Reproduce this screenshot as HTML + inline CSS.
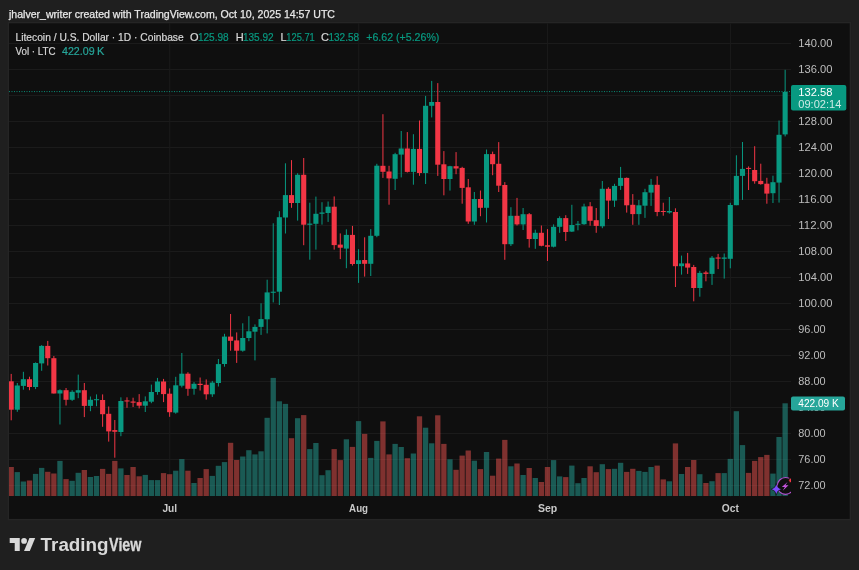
<!DOCTYPE html>
<html><head><meta charset="utf-8"><title>LTCUSD chart</title>
<style>
html,body{margin:0;padding:0;background:#1f1f1f;}
body{width:859px;height:570px;overflow:hidden;font-family:"Liberation Sans",sans-serif;}
svg{display:block;position:absolute;left:0;top:0;will-change:transform;font-family:"Liberation Sans",sans-serif;}
</style></head><body>
<svg width="859" height="570" viewBox="0 0 859 570">
<rect width="859" height="570" fill="#1f1f1f"/>
<text x="9" y="18.4" font-size="11" fill="#e8e8e8" stroke="#e8e8e8" stroke-width="0.25" textLength="326" lengthAdjust="spacingAndGlyphs">jhalver_writer created with TradingView.com, Oct 10, 2025 14:57 UTC</text>
<rect x="7.7" y="21.9" width="843.4" height="498.4" fill="#252525"/>
<rect x="9" y="23.3" width="840.7" height="495.6" fill="#0f0f0f"/>

<defs><clipPath id="pane"><rect x="9" y="23.3" width="782" height="473"/></clipPath></defs>
<g stroke="#1b1b1b" stroke-width="1">
<line x1="9" y1="43.50" x2="791" y2="43.50"/>
<line x1="9" y1="69.50" x2="791" y2="69.50"/>
<line x1="9" y1="95.50" x2="791" y2="95.50"/>
<line x1="9" y1="121.50" x2="791" y2="121.50"/>
<line x1="9" y1="147.50" x2="791" y2="147.50"/>
<line x1="9" y1="173.50" x2="791" y2="173.50"/>
<line x1="9" y1="199.50" x2="791" y2="199.50"/>
<line x1="9" y1="225.50" x2="791" y2="225.50"/>
<line x1="9" y1="251.50" x2="791" y2="251.50"/>
<line x1="9" y1="277.50" x2="791" y2="277.50"/>
<line x1="9" y1="303.50" x2="791" y2="303.50"/>
<line x1="9" y1="329.50" x2="791" y2="329.50"/>
<line x1="9" y1="355.50" x2="791" y2="355.50"/>
<line x1="9" y1="381.50" x2="791" y2="381.50"/>
<line x1="9" y1="407.50" x2="791" y2="407.50"/>
<line x1="9" y1="433.50" x2="791" y2="433.50"/>
<line x1="9" y1="459.50" x2="791" y2="459.50"/>
<line x1="9" y1="485.50" x2="791" y2="485.50"/>
<line x1="169.70" y1="23.3" x2="169.70" y2="496.5"/>
<line x1="358.70" y1="23.3" x2="358.70" y2="496.5"/>
<line x1="547.60" y1="23.3" x2="547.60" y2="496.5"/>
<line x1="730.40" y1="23.3" x2="730.40" y2="496.5"/>
</g>
<g clip-path="url(#pane)">
<rect x="8.55" y="467.0" width="5.3" height="29.1" fill="#ef5350" fill-opacity="0.5"/>
<rect x="14.64" y="472.1" width="5.3" height="23.9" fill="#26a69a" fill-opacity="0.5"/>
<rect x="20.74" y="481.5" width="5.3" height="14.6" fill="#26a69a" fill-opacity="0.5"/>
<rect x="26.83" y="480.5" width="5.3" height="15.6" fill="#ef5350" fill-opacity="0.5"/>
<rect x="32.93" y="473.9" width="5.3" height="22.2" fill="#26a69a" fill-opacity="0.5"/>
<rect x="39.02" y="467.9" width="5.3" height="28.2" fill="#26a69a" fill-opacity="0.5"/>
<rect x="45.11" y="471.8" width="5.3" height="24.2" fill="#ef5350" fill-opacity="0.5"/>
<rect x="51.21" y="473.5" width="5.3" height="22.6" fill="#ef5350" fill-opacity="0.5"/>
<rect x="57.30" y="460.9" width="5.3" height="35.2" fill="#26a69a" fill-opacity="0.5"/>
<rect x="63.40" y="479.1" width="5.3" height="16.9" fill="#ef5350" fill-opacity="0.5"/>
<rect x="69.49" y="480.8" width="5.3" height="15.2" fill="#26a69a" fill-opacity="0.5"/>
<rect x="75.58" y="472.8" width="5.3" height="23.2" fill="#26a69a" fill-opacity="0.5"/>
<rect x="81.68" y="470.0" width="5.3" height="26.1" fill="#ef5350" fill-opacity="0.5"/>
<rect x="87.77" y="477.0" width="5.3" height="19.1" fill="#26a69a" fill-opacity="0.5"/>
<rect x="93.87" y="476.0" width="5.3" height="20.1" fill="#26a69a" fill-opacity="0.5"/>
<rect x="99.96" y="468.9" width="5.3" height="27.2" fill="#ef5350" fill-opacity="0.5"/>
<rect x="106.05" y="473.9" width="5.3" height="22.2" fill="#ef5350" fill-opacity="0.5"/>
<rect x="112.15" y="460.9" width="5.3" height="35.2" fill="#ef5350" fill-opacity="0.5"/>
<rect x="118.24" y="468.4" width="5.3" height="27.7" fill="#26a69a" fill-opacity="0.5"/>
<rect x="124.34" y="475.0" width="5.3" height="21.1" fill="#ef5350" fill-opacity="0.5"/>
<rect x="130.43" y="467.0" width="5.3" height="29.1" fill="#ef5350" fill-opacity="0.5"/>
<rect x="136.52" y="476.3" width="5.3" height="19.8" fill="#ef5350" fill-opacity="0.5"/>
<rect x="142.62" y="474.9" width="5.3" height="21.2" fill="#26a69a" fill-opacity="0.5"/>
<rect x="148.71" y="480.1" width="5.3" height="15.9" fill="#26a69a" fill-opacity="0.5"/>
<rect x="154.81" y="480.1" width="5.3" height="15.9" fill="#26a69a" fill-opacity="0.5"/>
<rect x="160.90" y="473.1" width="5.3" height="22.9" fill="#ef5350" fill-opacity="0.5"/>
<rect x="166.99" y="474.2" width="5.3" height="21.9" fill="#ef5350" fill-opacity="0.5"/>
<rect x="173.09" y="470.7" width="5.3" height="25.4" fill="#26a69a" fill-opacity="0.5"/>
<rect x="179.18" y="459.1" width="5.3" height="36.9" fill="#26a69a" fill-opacity="0.5"/>
<rect x="185.28" y="470.7" width="5.3" height="25.4" fill="#ef5350" fill-opacity="0.5"/>
<rect x="191.37" y="483.0" width="5.3" height="13.1" fill="#26a69a" fill-opacity="0.5"/>
<rect x="197.46" y="478.0" width="5.3" height="18.1" fill="#ef5350" fill-opacity="0.5"/>
<rect x="203.56" y="469.1" width="5.3" height="26.9" fill="#ef5350" fill-opacity="0.5"/>
<rect x="209.65" y="475.9" width="5.3" height="20.2" fill="#26a69a" fill-opacity="0.5"/>
<rect x="215.75" y="465.8" width="5.3" height="30.2" fill="#26a69a" fill-opacity="0.5"/>
<rect x="221.84" y="462.1" width="5.3" height="33.9" fill="#26a69a" fill-opacity="0.5"/>
<rect x="227.93" y="442.8" width="5.3" height="53.2" fill="#ef5350" fill-opacity="0.5"/>
<rect x="234.03" y="460.0" width="5.3" height="36.1" fill="#ef5350" fill-opacity="0.5"/>
<rect x="240.12" y="456.5" width="5.3" height="39.6" fill="#26a69a" fill-opacity="0.5"/>
<rect x="246.22" y="450.2" width="5.3" height="45.9" fill="#26a69a" fill-opacity="0.5"/>
<rect x="252.31" y="454.4" width="5.3" height="41.7" fill="#26a69a" fill-opacity="0.5"/>
<rect x="258.40" y="451.3" width="5.3" height="44.8" fill="#26a69a" fill-opacity="0.5"/>
<rect x="264.50" y="417.8" width="5.3" height="78.2" fill="#26a69a" fill-opacity="0.5"/>
<rect x="270.59" y="377.9" width="5.3" height="118.2" fill="#26a69a" fill-opacity="0.5"/>
<rect x="276.69" y="401.3" width="5.3" height="94.8" fill="#26a69a" fill-opacity="0.5"/>
<rect x="282.78" y="403.9" width="5.3" height="92.2" fill="#26a69a" fill-opacity="0.5"/>
<rect x="288.87" y="438.2" width="5.3" height="57.9" fill="#ef5350" fill-opacity="0.5"/>
<rect x="294.97" y="418.2" width="5.3" height="77.9" fill="#26a69a" fill-opacity="0.5"/>
<rect x="301.06" y="415.1" width="5.3" height="80.9" fill="#ef5350" fill-opacity="0.5"/>
<rect x="307.16" y="449.1" width="5.3" height="46.9" fill="#26a69a" fill-opacity="0.5"/>
<rect x="313.25" y="443.0" width="5.3" height="53.1" fill="#26a69a" fill-opacity="0.5"/>
<rect x="319.34" y="475.2" width="5.3" height="20.9" fill="#26a69a" fill-opacity="0.5"/>
<rect x="325.44" y="470.2" width="5.3" height="25.9" fill="#26a69a" fill-opacity="0.5"/>
<rect x="331.53" y="449.1" width="5.3" height="46.9" fill="#ef5350" fill-opacity="0.5"/>
<rect x="337.63" y="460.1" width="5.3" height="35.9" fill="#ef5350" fill-opacity="0.5"/>
<rect x="343.72" y="439.3" width="5.3" height="56.8" fill="#26a69a" fill-opacity="0.5"/>
<rect x="349.81" y="446.9" width="5.3" height="49.2" fill="#ef5350" fill-opacity="0.5"/>
<rect x="355.91" y="421.1" width="5.3" height="74.9" fill="#26a69a" fill-opacity="0.5"/>
<rect x="362.00" y="433.9" width="5.3" height="62.2" fill="#ef5350" fill-opacity="0.5"/>
<rect x="368.10" y="457.9" width="5.3" height="38.2" fill="#26a69a" fill-opacity="0.5"/>
<rect x="374.19" y="440.9" width="5.3" height="55.2" fill="#26a69a" fill-opacity="0.5"/>
<rect x="380.28" y="421.4" width="5.3" height="74.7" fill="#ef5350" fill-opacity="0.5"/>
<rect x="386.38" y="454.4" width="5.3" height="41.7" fill="#ef5350" fill-opacity="0.5"/>
<rect x="392.47" y="443.9" width="5.3" height="52.2" fill="#26a69a" fill-opacity="0.5"/>
<rect x="398.57" y="447.0" width="5.3" height="49.1" fill="#26a69a" fill-opacity="0.5"/>
<rect x="404.66" y="458.2" width="5.3" height="37.9" fill="#ef5350" fill-opacity="0.5"/>
<rect x="410.75" y="453.5" width="5.3" height="42.6" fill="#26a69a" fill-opacity="0.5"/>
<rect x="416.85" y="416.3" width="5.3" height="79.8" fill="#ef5350" fill-opacity="0.5"/>
<rect x="422.94" y="427.7" width="5.3" height="68.4" fill="#26a69a" fill-opacity="0.5"/>
<rect x="429.04" y="443.3" width="5.3" height="52.8" fill="#26a69a" fill-opacity="0.5"/>
<rect x="435.13" y="415.3" width="5.3" height="80.8" fill="#ef5350" fill-opacity="0.5"/>
<rect x="441.22" y="443.9" width="5.3" height="52.2" fill="#ef5350" fill-opacity="0.5"/>
<rect x="447.32" y="459.3" width="5.3" height="36.8" fill="#26a69a" fill-opacity="0.5"/>
<rect x="453.41" y="469.8" width="5.3" height="26.2" fill="#ef5350" fill-opacity="0.5"/>
<rect x="459.51" y="455.6" width="5.3" height="40.4" fill="#ef5350" fill-opacity="0.5"/>
<rect x="465.60" y="450.5" width="5.3" height="45.6" fill="#ef5350" fill-opacity="0.5"/>
<rect x="471.69" y="460.7" width="5.3" height="35.4" fill="#26a69a" fill-opacity="0.5"/>
<rect x="477.79" y="469.1" width="5.3" height="26.9" fill="#ef5350" fill-opacity="0.5"/>
<rect x="483.88" y="452.0" width="5.3" height="44.1" fill="#26a69a" fill-opacity="0.5"/>
<rect x="489.98" y="475.7" width="5.3" height="20.4" fill="#ef5350" fill-opacity="0.5"/>
<rect x="496.07" y="458.6" width="5.3" height="37.4" fill="#ef5350" fill-opacity="0.5"/>
<rect x="502.16" y="439.9" width="5.3" height="56.2" fill="#ef5350" fill-opacity="0.5"/>
<rect x="508.26" y="466.3" width="5.3" height="29.8" fill="#26a69a" fill-opacity="0.5"/>
<rect x="514.35" y="463.5" width="5.3" height="32.6" fill="#ef5350" fill-opacity="0.5"/>
<rect x="520.45" y="475.0" width="5.3" height="21.1" fill="#26a69a" fill-opacity="0.5"/>
<rect x="526.54" y="468.0" width="5.3" height="28.1" fill="#ef5350" fill-opacity="0.5"/>
<rect x="532.63" y="478.0" width="5.3" height="18.1" fill="#26a69a" fill-opacity="0.5"/>
<rect x="538.73" y="482.0" width="5.3" height="14.1" fill="#ef5350" fill-opacity="0.5"/>
<rect x="544.82" y="467.0" width="5.3" height="29.1" fill="#ef5350" fill-opacity="0.5"/>
<rect x="550.92" y="460.1" width="5.3" height="35.9" fill="#26a69a" fill-opacity="0.5"/>
<rect x="557.01" y="476.4" width="5.3" height="19.7" fill="#26a69a" fill-opacity="0.5"/>
<rect x="563.10" y="477.1" width="5.3" height="18.9" fill="#ef5350" fill-opacity="0.5"/>
<rect x="569.20" y="465.6" width="5.3" height="30.4" fill="#26a69a" fill-opacity="0.5"/>
<rect x="575.29" y="483.2" width="5.3" height="12.9" fill="#26a69a" fill-opacity="0.5"/>
<rect x="581.39" y="478.0" width="5.3" height="18.1" fill="#26a69a" fill-opacity="0.5"/>
<rect x="587.48" y="466.3" width="5.3" height="29.8" fill="#ef5350" fill-opacity="0.5"/>
<rect x="593.57" y="472.2" width="5.3" height="23.9" fill="#ef5350" fill-opacity="0.5"/>
<rect x="599.67" y="464.2" width="5.3" height="31.9" fill="#26a69a" fill-opacity="0.5"/>
<rect x="605.76" y="469.1" width="5.3" height="26.9" fill="#ef5350" fill-opacity="0.5"/>
<rect x="611.86" y="468.8" width="5.3" height="27.2" fill="#26a69a" fill-opacity="0.5"/>
<rect x="617.95" y="462.8" width="5.3" height="33.2" fill="#26a69a" fill-opacity="0.5"/>
<rect x="624.04" y="471.9" width="5.3" height="24.2" fill="#ef5350" fill-opacity="0.5"/>
<rect x="630.14" y="468.8" width="5.3" height="27.2" fill="#ef5350" fill-opacity="0.5"/>
<rect x="636.23" y="470.9" width="5.3" height="25.2" fill="#26a69a" fill-opacity="0.5"/>
<rect x="642.33" y="471.9" width="5.3" height="24.2" fill="#26a69a" fill-opacity="0.5"/>
<rect x="648.42" y="467.0" width="5.3" height="29.1" fill="#26a69a" fill-opacity="0.5"/>
<rect x="654.51" y="465.6" width="5.3" height="30.4" fill="#ef5350" fill-opacity="0.5"/>
<rect x="660.61" y="479.4" width="5.3" height="16.7" fill="#ef5350" fill-opacity="0.5"/>
<rect x="666.70" y="481.3" width="5.3" height="14.8" fill="#26a69a" fill-opacity="0.5"/>
<rect x="672.80" y="443.4" width="5.3" height="52.7" fill="#ef5350" fill-opacity="0.5"/>
<rect x="678.89" y="474.0" width="5.3" height="22.1" fill="#26a69a" fill-opacity="0.5"/>
<rect x="684.98" y="467.0" width="5.3" height="29.1" fill="#ef5350" fill-opacity="0.5"/>
<rect x="691.08" y="460.0" width="5.3" height="36.1" fill="#ef5350" fill-opacity="0.5"/>
<rect x="697.17" y="474.2" width="5.3" height="21.9" fill="#26a69a" fill-opacity="0.5"/>
<rect x="703.27" y="483.0" width="5.3" height="13.1" fill="#ef5350" fill-opacity="0.5"/>
<rect x="709.36" y="481.2" width="5.3" height="14.9" fill="#26a69a" fill-opacity="0.5"/>
<rect x="715.45" y="473.1" width="5.3" height="22.9" fill="#ef5350" fill-opacity="0.5"/>
<rect x="721.55" y="473.1" width="5.3" height="22.9" fill="#26a69a" fill-opacity="0.5"/>
<rect x="727.64" y="458.9" width="5.3" height="37.2" fill="#26a69a" fill-opacity="0.5"/>
<rect x="733.74" y="411.2" width="5.3" height="84.9" fill="#26a69a" fill-opacity="0.5"/>
<rect x="739.83" y="445.1" width="5.3" height="50.9" fill="#26a69a" fill-opacity="0.5"/>
<rect x="745.92" y="472.9" width="5.3" height="23.2" fill="#ef5350" fill-opacity="0.5"/>
<rect x="752.02" y="460.9" width="5.3" height="35.2" fill="#ef5350" fill-opacity="0.5"/>
<rect x="758.11" y="457.1" width="5.3" height="38.9" fill="#ef5350" fill-opacity="0.5"/>
<rect x="764.21" y="454.9" width="5.3" height="41.2" fill="#ef5350" fill-opacity="0.5"/>
<rect x="770.30" y="473.6" width="5.3" height="22.4" fill="#26a69a" fill-opacity="0.5"/>
<rect x="776.39" y="437.0" width="5.3" height="59.1" fill="#26a69a" fill-opacity="0.5"/>
<rect x="782.49" y="403.3" width="5.3" height="92.8" fill="#26a69a" fill-opacity="0.5"/>
<line x1="9" y1="91.6" x2="791" y2="91.6" stroke="#089981" stroke-width="1" stroke-dasharray="1 1.5" opacity="0.9"/>
<rect x="10.70" y="373.9" width="1" height="46.4" fill="#f23645"/>
<rect x="8.65" y="381.3" width="5.1" height="28.4" fill="#f23645"/>
<rect x="16.79" y="383.0" width="1" height="28.8" fill="#089981"/>
<rect x="14.74" y="385.5" width="5.1" height="24.2" fill="#089981"/>
<rect x="22.89" y="371.8" width="1" height="17.9" fill="#089981"/>
<rect x="20.84" y="379.2" width="5.1" height="6.7" fill="#089981"/>
<rect x="28.98" y="376.7" width="1" height="13.5" fill="#f23645"/>
<rect x="26.93" y="379.2" width="5.1" height="7.8" fill="#f23645"/>
<rect x="35.08" y="362.4" width="1" height="26.7" fill="#089981"/>
<rect x="33.03" y="363.0" width="5.1" height="24.0" fill="#089981"/>
<rect x="41.17" y="345.1" width="1" height="25.7" fill="#089981"/>
<rect x="39.12" y="345.9" width="5.1" height="17.5" fill="#089981"/>
<rect x="47.26" y="340.9" width="1" height="24.6" fill="#f23645"/>
<rect x="45.21" y="345.9" width="5.1" height="12.3" fill="#f23645"/>
<rect x="53.36" y="356.0" width="1" height="37.5" fill="#f23645"/>
<rect x="51.31" y="358.2" width="5.1" height="35.3" fill="#f23645"/>
<rect x="59.45" y="389.3" width="1" height="35.2" fill="#089981"/>
<rect x="57.40" y="390.2" width="5.1" height="3.3" fill="#089981"/>
<rect x="65.55" y="388.0" width="1" height="17.5" fill="#f23645"/>
<rect x="63.50" y="390.2" width="5.1" height="9.6" fill="#f23645"/>
<rect x="71.64" y="390.2" width="1" height="10.7" fill="#089981"/>
<rect x="69.59" y="391.8" width="5.1" height="8.0" fill="#089981"/>
<rect x="77.73" y="374.6" width="1" height="23.6" fill="#089981"/>
<rect x="75.68" y="390.2" width="5.1" height="2.5" fill="#089981"/>
<rect x="83.83" y="383.0" width="1" height="34.1" fill="#f23645"/>
<rect x="81.78" y="390.2" width="5.1" height="15.7" fill="#f23645"/>
<rect x="89.92" y="396.5" width="1" height="14.7" fill="#089981"/>
<rect x="87.87" y="399.8" width="5.1" height="6.1" fill="#089981"/>
<rect x="96.02" y="394.4" width="1" height="11.8" fill="#089981"/>
<rect x="93.97" y="399.2" width="5.1" height="1.0" fill="#089981"/>
<rect x="102.11" y="394.4" width="1" height="32.4" fill="#f23645"/>
<rect x="100.06" y="400.0" width="5.1" height="14.2" fill="#f23645"/>
<rect x="108.20" y="406.5" width="1" height="35.1" fill="#f23645"/>
<rect x="106.15" y="413.8" width="5.1" height="17.6" fill="#f23645"/>
<rect x="114.30" y="420.0" width="1" height="37.7" fill="#f23645"/>
<rect x="112.25" y="430.1" width="5.1" height="1.7" fill="#f23645"/>
<rect x="120.39" y="397.3" width="1" height="38.9" fill="#089981"/>
<rect x="118.34" y="401.0" width="5.1" height="31.0" fill="#089981"/>
<rect x="126.49" y="397.3" width="1" height="10.5" fill="#f23645"/>
<rect x="124.44" y="400.4" width="5.1" height="1.1" fill="#f23645"/>
<rect x="132.58" y="397.7" width="1" height="9.3" fill="#f23645"/>
<rect x="130.53" y="401.5" width="5.1" height="1.2" fill="#f23645"/>
<rect x="138.67" y="394.1" width="1" height="14.3" fill="#f23645"/>
<rect x="136.62" y="402.1" width="5.1" height="3.6" fill="#f23645"/>
<rect x="144.77" y="396.4" width="1" height="15.6" fill="#089981"/>
<rect x="142.72" y="401.3" width="5.1" height="4.4" fill="#089981"/>
<rect x="150.86" y="384.6" width="1" height="18.6" fill="#089981"/>
<rect x="148.81" y="392.0" width="5.1" height="9.7" fill="#089981"/>
<rect x="156.96" y="377.9" width="1" height="16.8" fill="#089981"/>
<rect x="154.91" y="381.5" width="5.1" height="10.5" fill="#089981"/>
<rect x="163.05" y="378.9" width="1" height="23.2" fill="#f23645"/>
<rect x="161.00" y="381.5" width="5.1" height="12.6" fill="#f23645"/>
<rect x="169.14" y="388.4" width="1" height="28.4" fill="#f23645"/>
<rect x="167.09" y="393.7" width="5.1" height="18.5" fill="#f23645"/>
<rect x="175.24" y="376.8" width="1" height="36.9" fill="#089981"/>
<rect x="173.19" y="385.3" width="5.1" height="27.3" fill="#089981"/>
<rect x="181.33" y="353.0" width="1" height="34.4" fill="#089981"/>
<rect x="179.28" y="373.7" width="5.1" height="12.0" fill="#089981"/>
<rect x="187.43" y="372.2" width="1" height="23.6" fill="#f23645"/>
<rect x="185.38" y="373.7" width="5.1" height="15.1" fill="#f23645"/>
<rect x="193.52" y="382.1" width="1" height="12.6" fill="#089981"/>
<rect x="191.47" y="383.8" width="5.1" height="5.0" fill="#089981"/>
<rect x="199.61" y="377.5" width="1" height="13.0" fill="#f23645"/>
<rect x="197.56" y="383.8" width="5.1" height="1.2" fill="#f23645"/>
<rect x="205.71" y="379.4" width="1" height="20.2" fill="#f23645"/>
<rect x="203.66" y="384.8" width="5.1" height="9.5" fill="#f23645"/>
<rect x="211.80" y="380.9" width="1" height="16.0" fill="#089981"/>
<rect x="209.75" y="382.6" width="5.1" height="11.7" fill="#089981"/>
<rect x="217.90" y="359.0" width="1" height="27.5" fill="#089981"/>
<rect x="215.85" y="364.1" width="5.1" height="18.9" fill="#089981"/>
<rect x="223.99" y="333.8" width="1" height="32.9" fill="#089981"/>
<rect x="221.94" y="336.6" width="5.1" height="27.4" fill="#089981"/>
<rect x="230.08" y="314.0" width="1" height="36.7" fill="#f23645"/>
<rect x="228.03" y="336.6" width="5.1" height="4.2" fill="#f23645"/>
<rect x="236.18" y="332.4" width="1" height="30.5" fill="#f23645"/>
<rect x="234.13" y="340.4" width="5.1" height="10.3" fill="#f23645"/>
<rect x="242.27" y="323.3" width="1" height="28.4" fill="#089981"/>
<rect x="240.22" y="338.0" width="5.1" height="12.7" fill="#089981"/>
<rect x="248.37" y="316.2" width="1" height="25.0" fill="#089981"/>
<rect x="246.32" y="331.3" width="5.1" height="6.7" fill="#089981"/>
<rect x="254.46" y="324.4" width="1" height="36.0" fill="#089981"/>
<rect x="252.41" y="326.9" width="5.1" height="4.8" fill="#089981"/>
<rect x="260.55" y="303.3" width="1" height="31.6" fill="#089981"/>
<rect x="258.50" y="319.1" width="5.1" height="7.8" fill="#089981"/>
<rect x="266.65" y="279.7" width="1" height="53.7" fill="#089981"/>
<rect x="264.60" y="292.4" width="5.1" height="26.9" fill="#089981"/>
<rect x="272.74" y="223.3" width="1" height="79.1" fill="#089981"/>
<rect x="270.69" y="291.7" width="5.1" height="1.1" fill="#089981"/>
<rect x="278.84" y="211.2" width="1" height="93.8" fill="#089981"/>
<rect x="276.79" y="217.2" width="5.1" height="74.5" fill="#089981"/>
<rect x="284.93" y="163.3" width="1" height="70.2" fill="#089981"/>
<rect x="282.88" y="195.1" width="5.1" height="22.4" fill="#089981"/>
<rect x="291.02" y="160.1" width="1" height="47.7" fill="#f23645"/>
<rect x="288.97" y="195.1" width="5.1" height="7.9" fill="#f23645"/>
<rect x="297.12" y="173.2" width="1" height="47.4" fill="#089981"/>
<rect x="295.07" y="174.8" width="5.1" height="28.2" fill="#089981"/>
<rect x="303.21" y="158.0" width="1" height="87.2" fill="#f23645"/>
<rect x="301.16" y="174.8" width="5.1" height="49.9" fill="#f23645"/>
<rect x="309.31" y="202.7" width="1" height="57.0" fill="#089981"/>
<rect x="307.26" y="223.6" width="5.1" height="1.2" fill="#089981"/>
<rect x="315.40" y="196.6" width="1" height="53.0" fill="#089981"/>
<rect x="313.35" y="213.8" width="5.1" height="10.0" fill="#089981"/>
<rect x="321.49" y="202.2" width="1" height="22.4" fill="#089981"/>
<rect x="319.44" y="212.5" width="5.1" height="1.3" fill="#089981"/>
<rect x="327.59" y="201.5" width="1" height="20.4" fill="#089981"/>
<rect x="325.54" y="206.7" width="5.1" height="6.3" fill="#089981"/>
<rect x="333.68" y="196.4" width="1" height="53.2" fill="#f23645"/>
<rect x="331.63" y="206.7" width="5.1" height="38.4" fill="#f23645"/>
<rect x="339.78" y="233.4" width="1" height="25.7" fill="#f23645"/>
<rect x="337.73" y="244.6" width="5.1" height="3.1" fill="#f23645"/>
<rect x="345.87" y="229.3" width="1" height="38.9" fill="#089981"/>
<rect x="343.82" y="234.9" width="5.1" height="13.7" fill="#089981"/>
<rect x="351.96" y="225.9" width="1" height="39.7" fill="#f23645"/>
<rect x="349.91" y="234.9" width="5.1" height="29.1" fill="#f23645"/>
<rect x="358.06" y="249.2" width="1" height="33.7" fill="#089981"/>
<rect x="356.01" y="260.2" width="5.1" height="3.8" fill="#089981"/>
<rect x="364.15" y="237.3" width="1" height="39.3" fill="#f23645"/>
<rect x="362.10" y="260.0" width="5.1" height="3.8" fill="#f23645"/>
<rect x="370.25" y="229.1" width="1" height="46.9" fill="#089981"/>
<rect x="368.20" y="235.8" width="5.1" height="28.0" fill="#089981"/>
<rect x="376.34" y="163.8" width="1" height="73.4" fill="#089981"/>
<rect x="374.29" y="165.7" width="5.1" height="70.1" fill="#089981"/>
<rect x="382.43" y="114.2" width="1" height="63.7" fill="#f23645"/>
<rect x="380.38" y="165.8" width="5.1" height="6.0" fill="#f23645"/>
<rect x="388.53" y="165.8" width="1" height="38.9" fill="#f23645"/>
<rect x="386.48" y="171.5" width="5.1" height="6.9" fill="#f23645"/>
<rect x="394.62" y="152.8" width="1" height="37.2" fill="#089981"/>
<rect x="392.57" y="154.2" width="5.1" height="24.6" fill="#089981"/>
<rect x="400.72" y="131.0" width="1" height="46.4" fill="#089981"/>
<rect x="398.67" y="148.5" width="5.1" height="6.1" fill="#089981"/>
<rect x="406.81" y="132.1" width="1" height="40.4" fill="#f23645"/>
<rect x="404.76" y="148.5" width="5.1" height="23.4" fill="#f23645"/>
<rect x="412.90" y="134.2" width="1" height="50.5" fill="#089981"/>
<rect x="410.85" y="148.9" width="5.1" height="23.0" fill="#089981"/>
<rect x="419.00" y="120.5" width="1" height="55.3" fill="#f23645"/>
<rect x="416.95" y="148.9" width="5.1" height="24.1" fill="#f23645"/>
<rect x="425.09" y="95.9" width="1" height="88.1" fill="#089981"/>
<rect x="423.04" y="105.8" width="5.1" height="67.2" fill="#089981"/>
<rect x="431.19" y="80.9" width="1" height="36.5" fill="#089981"/>
<rect x="429.14" y="102.0" width="5.1" height="3.8" fill="#089981"/>
<rect x="437.28" y="83.1" width="1" height="92.8" fill="#f23645"/>
<rect x="435.23" y="102.0" width="5.1" height="62.7" fill="#f23645"/>
<rect x="443.37" y="151.1" width="1" height="44.2" fill="#f23645"/>
<rect x="441.32" y="164.3" width="5.1" height="14.7" fill="#f23645"/>
<rect x="449.47" y="165.8" width="1" height="24.8" fill="#089981"/>
<rect x="447.42" y="166.2" width="5.1" height="12.8" fill="#089981"/>
<rect x="455.56" y="152.1" width="1" height="22.1" fill="#f23645"/>
<rect x="453.51" y="166.2" width="5.1" height="2.3" fill="#f23645"/>
<rect x="461.66" y="166.8" width="1" height="36.9" fill="#f23645"/>
<rect x="459.61" y="167.9" width="5.1" height="20.0" fill="#f23645"/>
<rect x="467.75" y="179.0" width="1" height="44.8" fill="#f23645"/>
<rect x="465.70" y="187.3" width="5.1" height="34.2" fill="#f23645"/>
<rect x="473.84" y="192.0" width="1" height="32.8" fill="#089981"/>
<rect x="471.79" y="199.0" width="5.1" height="22.5" fill="#089981"/>
<rect x="479.94" y="190.5" width="1" height="25.7" fill="#f23645"/>
<rect x="477.89" y="199.0" width="5.1" height="8.8" fill="#f23645"/>
<rect x="486.03" y="149.5" width="1" height="73.0" fill="#089981"/>
<rect x="483.98" y="154.1" width="5.1" height="53.7" fill="#089981"/>
<rect x="492.13" y="151.6" width="1" height="23.6" fill="#f23645"/>
<rect x="490.08" y="154.1" width="5.1" height="10.1" fill="#f23645"/>
<rect x="498.22" y="142.1" width="1" height="49.9" fill="#f23645"/>
<rect x="496.17" y="163.8" width="5.1" height="21.9" fill="#f23645"/>
<rect x="504.31" y="182.1" width="1" height="77.7" fill="#f23645"/>
<rect x="502.26" y="185.0" width="5.1" height="59.2" fill="#f23645"/>
<rect x="510.41" y="207.2" width="1" height="38.8" fill="#089981"/>
<rect x="508.36" y="215.8" width="5.1" height="28.4" fill="#089981"/>
<rect x="516.50" y="197.9" width="1" height="27.6" fill="#f23645"/>
<rect x="514.45" y="215.8" width="5.1" height="8.6" fill="#f23645"/>
<rect x="522.60" y="208.0" width="1" height="22.0" fill="#089981"/>
<rect x="520.55" y="214.2" width="5.1" height="10.2" fill="#089981"/>
<rect x="528.69" y="213.0" width="1" height="34.6" fill="#f23645"/>
<rect x="526.64" y="214.2" width="5.1" height="24.8" fill="#f23645"/>
<rect x="534.78" y="229.7" width="1" height="19.1" fill="#089981"/>
<rect x="532.73" y="232.8" width="5.1" height="6.2" fill="#089981"/>
<rect x="540.88" y="225.5" width="1" height="20.8" fill="#f23645"/>
<rect x="538.83" y="232.8" width="5.1" height="13.0" fill="#f23645"/>
<rect x="546.97" y="229.1" width="1" height="31.9" fill="#f23645"/>
<rect x="544.92" y="245.3" width="5.1" height="1.4" fill="#f23645"/>
<rect x="553.07" y="224.4" width="1" height="23.0" fill="#089981"/>
<rect x="551.02" y="226.8" width="5.1" height="19.9" fill="#089981"/>
<rect x="559.16" y="216.3" width="1" height="16.5" fill="#089981"/>
<rect x="557.11" y="218.1" width="5.1" height="8.7" fill="#089981"/>
<rect x="565.25" y="215.2" width="1" height="25.8" fill="#f23645"/>
<rect x="563.20" y="218.1" width="5.1" height="13.9" fill="#f23645"/>
<rect x="571.35" y="204.8" width="1" height="27.2" fill="#089981"/>
<rect x="569.30" y="225.0" width="5.1" height="6.6" fill="#089981"/>
<rect x="577.44" y="221.0" width="1" height="9.3" fill="#089981"/>
<rect x="575.39" y="223.8" width="5.1" height="1.0" fill="#089981"/>
<rect x="583.54" y="203.7" width="1" height="21.1" fill="#089981"/>
<rect x="581.49" y="206.5" width="5.1" height="17.7" fill="#089981"/>
<rect x="589.63" y="202.1" width="1" height="23.6" fill="#f23645"/>
<rect x="587.58" y="206.3" width="5.1" height="14.5" fill="#f23645"/>
<rect x="595.72" y="208.0" width="1" height="24.8" fill="#f23645"/>
<rect x="593.67" y="220.2" width="5.1" height="5.7" fill="#f23645"/>
<rect x="601.82" y="181.0" width="1" height="47.2" fill="#089981"/>
<rect x="599.77" y="188.8" width="5.1" height="37.5" fill="#089981"/>
<rect x="607.91" y="187.2" width="1" height="31.8" fill="#f23645"/>
<rect x="605.86" y="188.8" width="5.1" height="11.8" fill="#f23645"/>
<rect x="614.01" y="183.8" width="1" height="23.1" fill="#089981"/>
<rect x="611.96" y="185.9" width="5.1" height="14.7" fill="#089981"/>
<rect x="620.10" y="166.9" width="1" height="23.0" fill="#089981"/>
<rect x="618.05" y="177.9" width="5.1" height="8.0" fill="#089981"/>
<rect x="626.19" y="177.5" width="1" height="35.1" fill="#f23645"/>
<rect x="624.14" y="177.9" width="5.1" height="27.4" fill="#f23645"/>
<rect x="632.29" y="194.1" width="1" height="30.7" fill="#f23645"/>
<rect x="630.24" y="204.8" width="5.1" height="9.3" fill="#f23645"/>
<rect x="638.38" y="200.0" width="1" height="24.8" fill="#089981"/>
<rect x="636.33" y="205.3" width="5.1" height="8.8" fill="#089981"/>
<rect x="644.48" y="188.8" width="1" height="29.1" fill="#089981"/>
<rect x="642.43" y="192.2" width="5.1" height="13.5" fill="#089981"/>
<rect x="650.57" y="178.9" width="1" height="27.0" fill="#089981"/>
<rect x="648.52" y="184.8" width="5.1" height="7.8" fill="#089981"/>
<rect x="656.66" y="176.2" width="1" height="40.0" fill="#f23645"/>
<rect x="654.61" y="184.8" width="5.1" height="27.2" fill="#f23645"/>
<rect x="662.76" y="202.7" width="1" height="13.0" fill="#f23645"/>
<rect x="660.71" y="211.0" width="5.1" height="1.0" fill="#f23645"/>
<rect x="668.85" y="197.0" width="1" height="16.6" fill="#089981"/>
<rect x="666.80" y="211.0" width="5.1" height="1.5" fill="#089981"/>
<rect x="674.95" y="208.3" width="1" height="78.7" fill="#f23645"/>
<rect x="672.90" y="212.0" width="5.1" height="54.2" fill="#f23645"/>
<rect x="681.04" y="255.6" width="1" height="19.0" fill="#089981"/>
<rect x="678.99" y="263.4" width="5.1" height="2.8" fill="#089981"/>
<rect x="687.13" y="252.9" width="1" height="21.0" fill="#f23645"/>
<rect x="685.08" y="263.4" width="5.1" height="4.2" fill="#f23645"/>
<rect x="693.23" y="264.9" width="1" height="36.4" fill="#f23645"/>
<rect x="691.18" y="267.0" width="5.1" height="21.0" fill="#f23645"/>
<rect x="699.32" y="270.8" width="1" height="25.9" fill="#089981"/>
<rect x="697.27" y="272.9" width="5.1" height="15.1" fill="#089981"/>
<rect x="705.42" y="270.8" width="1" height="10.5" fill="#f23645"/>
<rect x="703.37" y="272.5" width="5.1" height="1.4" fill="#f23645"/>
<rect x="711.51" y="256.0" width="1" height="28.9" fill="#089981"/>
<rect x="709.46" y="257.7" width="5.1" height="16.2" fill="#089981"/>
<rect x="717.60" y="253.9" width="1" height="15.2" fill="#f23645"/>
<rect x="715.55" y="257.5" width="5.1" height="1.1" fill="#f23645"/>
<rect x="723.70" y="253.5" width="1" height="25.1" fill="#089981"/>
<rect x="721.65" y="257.5" width="5.1" height="1.3" fill="#089981"/>
<rect x="729.79" y="202.8" width="1" height="65.5" fill="#089981"/>
<rect x="727.74" y="205.0" width="5.1" height="53.8" fill="#089981"/>
<rect x="735.89" y="155.3" width="1" height="49.9" fill="#089981"/>
<rect x="733.84" y="175.9" width="5.1" height="29.3" fill="#089981"/>
<rect x="741.98" y="142.0" width="1" height="57.9" fill="#089981"/>
<rect x="739.93" y="168.9" width="5.1" height="7.0" fill="#089981"/>
<rect x="748.07" y="166.4" width="1" height="23.6" fill="#f23645"/>
<rect x="746.02" y="167.9" width="5.1" height="1.0" fill="#f23645"/>
<rect x="754.17" y="146.2" width="1" height="37.5" fill="#f23645"/>
<rect x="752.12" y="170.0" width="5.1" height="11.2" fill="#f23645"/>
<rect x="760.26" y="163.7" width="1" height="21.0" fill="#f23645"/>
<rect x="758.21" y="180.9" width="5.1" height="3.2" fill="#f23645"/>
<rect x="766.36" y="177.8" width="1" height="25.9" fill="#f23645"/>
<rect x="764.31" y="183.7" width="5.1" height="9.9" fill="#f23645"/>
<rect x="772.45" y="175.7" width="1" height="27.3" fill="#089981"/>
<rect x="770.40" y="182.2" width="5.1" height="11.0" fill="#089981"/>
<rect x="778.54" y="120.5" width="1" height="82.1" fill="#089981"/>
<rect x="776.49" y="134.8" width="5.1" height="47.8" fill="#089981"/>
<rect x="784.64" y="69.8" width="1" height="66.6" fill="#089981"/>
<rect x="782.59" y="92.0" width="5.1" height="42.4" fill="#089981"/>
<g>
<circle cx="785.6" cy="485.9" r="8.4" fill="#0f0f0f" stroke="#b44fd0" stroke-width="1.2"/>
<path d="M787.6 481.9 L781.8 487.1 L784.9 487.1 L782.7 490.7 L788.5 485.3 L785.4 485.3 Z" fill="#c656e0"/>
<path d="M776.3 483.6 Q777.1 488.4 781.6 489.2 Q777.1 490 776.3 494.8 Q775.5 490 771 489.2 Q775.5 488.4 776.3 483.6 Z" fill="#7c4dff" stroke="#0f0f0f" stroke-width="0.6"/>
<circle cx="791.2" cy="480.4" r="2.5" fill="#f23645" stroke="#0f0f0f" stroke-width="0.9"/>
</g>
</g>
<g font-size="10" fill="#bdbdbd">
<text x="798.3" y="47.40" textLength="34.1" lengthAdjust="spacingAndGlyphs">140.00</text>
<text x="798.3" y="73.40" textLength="34.1" lengthAdjust="spacingAndGlyphs">136.00</text>
<text x="798.3" y="99.40" textLength="34.1" lengthAdjust="spacingAndGlyphs">132.00</text>
<text x="798.3" y="125.40" textLength="34.1" lengthAdjust="spacingAndGlyphs">128.00</text>
<text x="798.3" y="151.40" textLength="34.1" lengthAdjust="spacingAndGlyphs">124.00</text>
<text x="798.3" y="177.40" textLength="34.1" lengthAdjust="spacingAndGlyphs">120.00</text>
<text x="798.3" y="203.40" textLength="34.1" lengthAdjust="spacingAndGlyphs">116.00</text>
<text x="798.3" y="229.40" textLength="34.1" lengthAdjust="spacingAndGlyphs">112.00</text>
<text x="798.3" y="255.40" textLength="34.1" lengthAdjust="spacingAndGlyphs">108.00</text>
<text x="798.3" y="281.40" textLength="34.1" lengthAdjust="spacingAndGlyphs">104.00</text>
<text x="798.3" y="307.40" textLength="34.1" lengthAdjust="spacingAndGlyphs">100.00</text>
<text x="798.3" y="333.40" textLength="27.3" lengthAdjust="spacingAndGlyphs">96.00</text>
<text x="798.3" y="359.40" textLength="27.3" lengthAdjust="spacingAndGlyphs">92.00</text>
<text x="798.3" y="385.40" textLength="27.3" lengthAdjust="spacingAndGlyphs">88.00</text>
<text x="798.3" y="411.40" textLength="27.3" lengthAdjust="spacingAndGlyphs">84.00</text>
<text x="798.3" y="437.40" textLength="27.3" lengthAdjust="spacingAndGlyphs">80.00</text>
<text x="798.3" y="463.40" textLength="27.3" lengthAdjust="spacingAndGlyphs">76.00</text>
<text x="798.3" y="489.40" textLength="27.3" lengthAdjust="spacingAndGlyphs">72.00</text>
</g>
<rect x="791" y="84.9" width="55.3" height="25.7" rx="2" fill="#089981"/>
<text x="798.3" y="96.0" font-size="10" fill="#ffffff" textLength="34.1" lengthAdjust="spacingAndGlyphs">132.58</text>
<text x="798.3" y="107.5" font-size="10" fill="#ffffff" fill-opacity="0.8" textLength="43" lengthAdjust="spacingAndGlyphs">09:02:14</text>
<rect x="791" y="396.6" width="54" height="13.8" rx="2" fill="#26a69a"/>
<text x="798.3" y="407.1" font-size="10" fill="#ffffff" textLength="40.5" lengthAdjust="spacingAndGlyphs">422.09 K</text>
<g font-size="11" stroke-width="0.2">
<text x="15.5" y="41" fill="#d8d8d8" stroke="#d8d8d8" textLength="168.2" lengthAdjust="spacingAndGlyphs">Litecoin / U.S. Dollar · 1D · Coinbase</text>
<text x="190.1" y="41" fill="#d8d8d8" stroke="#d8d8d8">O</text>
<text x="197.9" y="41" fill="#089981" stroke="#089981" textLength="30.8" lengthAdjust="spacingAndGlyphs">125.98</text>
<text x="235.7" y="41" fill="#d8d8d8" stroke="#d8d8d8">H</text>
<text x="242.9" y="41" fill="#089981" stroke="#089981" textLength="30.8" lengthAdjust="spacingAndGlyphs">135.92</text>
<text x="280.6" y="41" fill="#d8d8d8" stroke="#d8d8d8">L</text>
<text x="286.3" y="41" fill="#089981" stroke="#089981" textLength="28.5" lengthAdjust="spacingAndGlyphs">125.71</text>
<text x="320.9" y="41" fill="#d8d8d8" stroke="#d8d8d8">C</text>
<text x="328.4" y="41" fill="#089981" stroke="#089981" textLength="30.8" lengthAdjust="spacingAndGlyphs">132.58</text>
<text x="366.2" y="41" fill="#089981" stroke="#089981" textLength="73.2" lengthAdjust="spacingAndGlyphs">+6.62 (+5.26%)</text>
<text x="15.5" y="54.9" fill="#d8d8d8" stroke="#d8d8d8" textLength="40" lengthAdjust="spacingAndGlyphs">Vol · LTC</text>
<text x="62" y="54.9" fill="#26a69a" stroke="#26a69a" textLength="32.6" lengthAdjust="spacingAndGlyphs">422.09</text>
<text x="96.9" y="54.9" fill="#26a69a" stroke="#26a69a">K</text>
</g>
<g font-size="10" font-weight="bold" fill="#c8c8c8">
<text x="162.40" y="512.4" textLength="14.7" lengthAdjust="spacingAndGlyphs">Jul</text>
<text x="349.10" y="512.4" textLength="19.0" lengthAdjust="spacingAndGlyphs">Aug</text>
<text x="537.95" y="512.4" textLength="19.3" lengthAdjust="spacingAndGlyphs">Sep</text>
<text x="721.75" y="512.4" textLength="17.1" lengthAdjust="spacingAndGlyphs">Oct</text>
</g>
<g transform="translate(9.7,535.2) scale(0.718)" fill="#d9d9d9">
<path d="M14 22H7V11H0V4h14v18z"/><circle cx="20" cy="8" r="4"/><path d="M28 22h-8l7.5-18h8L28 22z"/>
</g>
<text x="40.6" y="550.7" font-size="17.5" font-weight="bold" fill="#d9d9d9" textLength="68" lengthAdjust="spacingAndGlyphs">Trading</text>
<text x="109.1" y="550.7" font-size="17.5" font-weight="bold" fill="#d9d9d9" stroke="#d9d9d9" stroke-width="0.3" textLength="32.4" lengthAdjust="spacingAndGlyphs">View</text>
</svg></body></html>
